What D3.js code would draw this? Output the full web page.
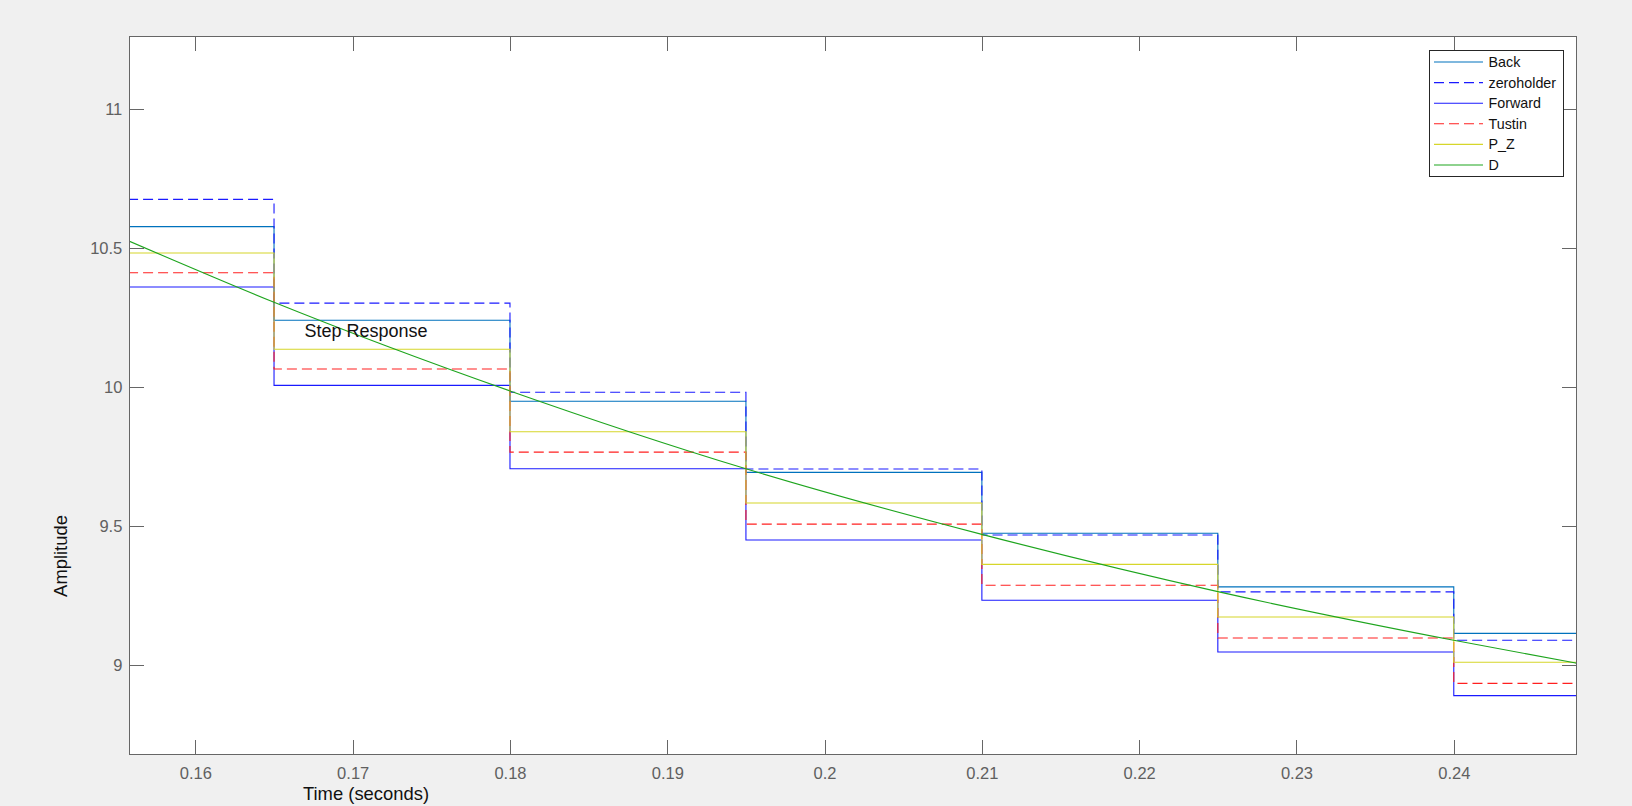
<!DOCTYPE html>
<html>
<head>
<meta charset="utf-8">
<script src="https://cdn.jsdelivr.net/npm/d3@7"></script>
<style>
  html, body { margin: 0; padding: 0; background: #f0f0f0; }
  svg { display: block; }
  text { font-family: "Liberation Sans", Arial, Helvetica, sans-serif; }
</style>
</head>
<body>
<svg id="chart" width="1632" height="806"></svg>
<script>
// ---------- data ----------
const stepTimes = [0.15, 0.165, 0.18, 0.195, 0.21, 0.225, 0.24];
const stepEnd = 0.255;
const backValues       = [10.578, 10.241, 9.950, 9.694, 9.475, 9.282, 9.115];
const zeroholderValues = [10.676, 10.303, 9.982, 9.706, 9.469, 9.264, 9.090];
const forwardValues    = [10.361, 10.007, 9.707, 9.451, 9.234, 9.048, 8.891];
const tustinValues     = [10.412, 10.066, 9.767, 9.508, 9.288, 9.098, 8.935];
const pzValues         = [10.483, 10.137, 9.840, 9.584, 9.363, 9.174, 9.011];
const dTimes  = [0.15578, 0.165, 0.18, 0.195, 0.21, 0.225, 0.24, 0.24777];
const dValues = [10.526, 10.306, 9.987, 9.707, 9.471, 9.265, 9.090, 9.008];
const xTicks = [0.16, 0.17, 0.18, 0.19, 0.2, 0.21, 0.22, 0.23, 0.24];
const yTicks = [9, 9.5, 10, 10.5, 11];
const seriesNames = ["Back", "zeroholder", "Forward", "Tustin", "P_Z", "D"];

// ---------- layout ----------
const svg = d3.select("#chart");
const L = 129, T = 36, R = 1576, B = 754;
const x = d3.scaleLinear().domain([0.15578, 0.24777]).range([L, R]);
const y = d3.scaleLinear().domain([8.681, 11.2637]).range([B, T]);

svg.append("rect").attr("x", 0).attr("y", 0).attr("width", 1632).attr("height", 806).attr("fill", "#f0f0f0");
svg.append("rect").attr("x", L).attr("y", T).attr("width", R - L).attr("height", B - T).attr("fill", "#ffffff");

svg.append("clipPath").attr("id", "clip")
  .append("rect").attr("x", L).attr("y", T).attr("width", R - L).attr("height", B - T);

const axisColor = "#666666";
const labelColor = "#606060";
const tickLen = 14.5;

function styleAxis(g) {
  g.select(".domain").remove();
  g.selectAll(".tick line").attr("stroke", axisColor).attr("shape-rendering", "crispEdges");
  g.selectAll(".tick text").attr("fill", labelColor).style("font-size", "16.5px")
    .style("font-family", '"Liberation Sans", Arial, sans-serif');
}

svg.append("g").attr("transform", `translate(0,${B})`)
  .call(d3.axisBottom(x).tickValues(xTicks).tickSizeInner(-tickLen).tickSizeOuter(0).tickPadding(13.3).tickFormat(d3.format("")))
  .call(styleAxis);
svg.append("g").attr("transform", `translate(0,${T})`)
  .call(d3.axisTop(x).tickValues(xTicks).tickSizeInner(-tickLen).tickSizeOuter(0).tickFormat(""))
  .call(styleAxis);
svg.append("g").attr("transform", `translate(${L},0)`)
  .call(d3.axisLeft(y).tickValues(yTicks).tickSizeInner(-tickLen).tickSizeOuter(0).tickPadding(6.7).tickFormat(d3.format("")))
  .call(styleAxis);
svg.append("g").attr("transform", `translate(${R},0)`)
  .call(d3.axisRight(y).tickValues(yTicks).tickSizeInner(-tickLen).tickSizeOuter(0).tickFormat(""))
  .call(styleAxis);

// ---------- series ----------
const seriesDefs = [
  { name: "Back",       values: backValues,       color: "#0072BD", dash: null },
  { name: "zeroholder", values: zeroholderValues, color: "#1a1aff", dash: "10,5" },
  { name: "Forward",    values: forwardValues,    color: "#1a1aff", dash: null },
  { name: "Tustin",     values: tustinValues,     color: "#ff2020", dash: "10,5" },
  { name: "P_Z",        values: pzValues,         color: "#d6d62a", dash: null }
];

const stepLine = d3.line().x(d => x(d.t)).y(d => y(d.v)).curve(d3.curveStepAfter);
const plotG = svg.append("g").attr("clip-path", "url(#clip)");

seriesDefs.forEach(s => {
  const pts = stepTimes.map((t, i) => ({ t: t, v: s.values[i] }));
  pts.push({ t: stepEnd, v: s.values[s.values.length - 1] });
  plotG.append("path")
    .attr("d", stepLine(pts))
    .attr("fill", "none")
    .attr("stroke", s.color)
    .attr("stroke-width", 1.1)
    .attr("stroke-dasharray", s.dash);
});

const dLine = d3.line().x(d => x(d.t)).y(d => y(d.v)).curve(d3.curveMonotoneX);
plotG.append("path")
  .attr("d", dLine(dTimes.map((t, i) => ({ t: t, v: dValues[i] }))))
  .attr("fill", "none")
  .attr("stroke", "#1ea51e")
  .attr("stroke-width", 1.1);

// frame
svg.append("rect").attr("x", L + 0.5).attr("y", T + 0.5).attr("width", R - L).attr("height", B - T)
  .attr("fill", "none").attr("stroke", axisColor).attr("stroke-width", 1);

// ---------- texts ----------
svg.append("text").attr("x", 366).attr("y", 336.5).attr("text-anchor", "middle")
  .style("font-size", "18px").attr("fill", "#111").text("Step Response");
svg.append("text").attr("x", 366).attr("y", 800).attr("text-anchor", "middle")
  .style("font-size", "18.4px").attr("fill", "#111").text("Time (seconds)");
svg.append("text").attr("transform", "translate(67,556) rotate(-90)").attr("text-anchor", "middle")
  .style("font-size", "18.4px").attr("fill", "#111").text("Amplitude");

// ---------- legend ----------
const legendColors = ["#0072BD", "#1a1aff", "#1a1aff", "#ff2020", "#d6d62a", "#1ea51e"];
const legendDash = [null, "10,5", null, "10,5", null, null];
const lg = svg.append("g");
lg.append("rect").attr("x", 1429.5).attr("y", 50.5).attr("width", 134).attr("height", 126)
  .attr("fill", "#ffffff").attr("stroke", "#262626").attr("stroke-width", 1);
seriesNames.forEach((n, i) => {
  const yy = 62 + i * 20.6;
  lg.append("line").attr("x1", 1434).attr("x2", 1483).attr("y1", yy).attr("y2", yy)
    .attr("stroke", legendColors[i]).attr("stroke-width", 1.1)
    .attr("stroke-dasharray", legendDash[i]);
  lg.append("text").attr("x", 1488.5).attr("y", yy + 5).style("font-size", "14.3px")
    .attr("fill", "#111").text(n);
});
</script>
</body>
</html>
